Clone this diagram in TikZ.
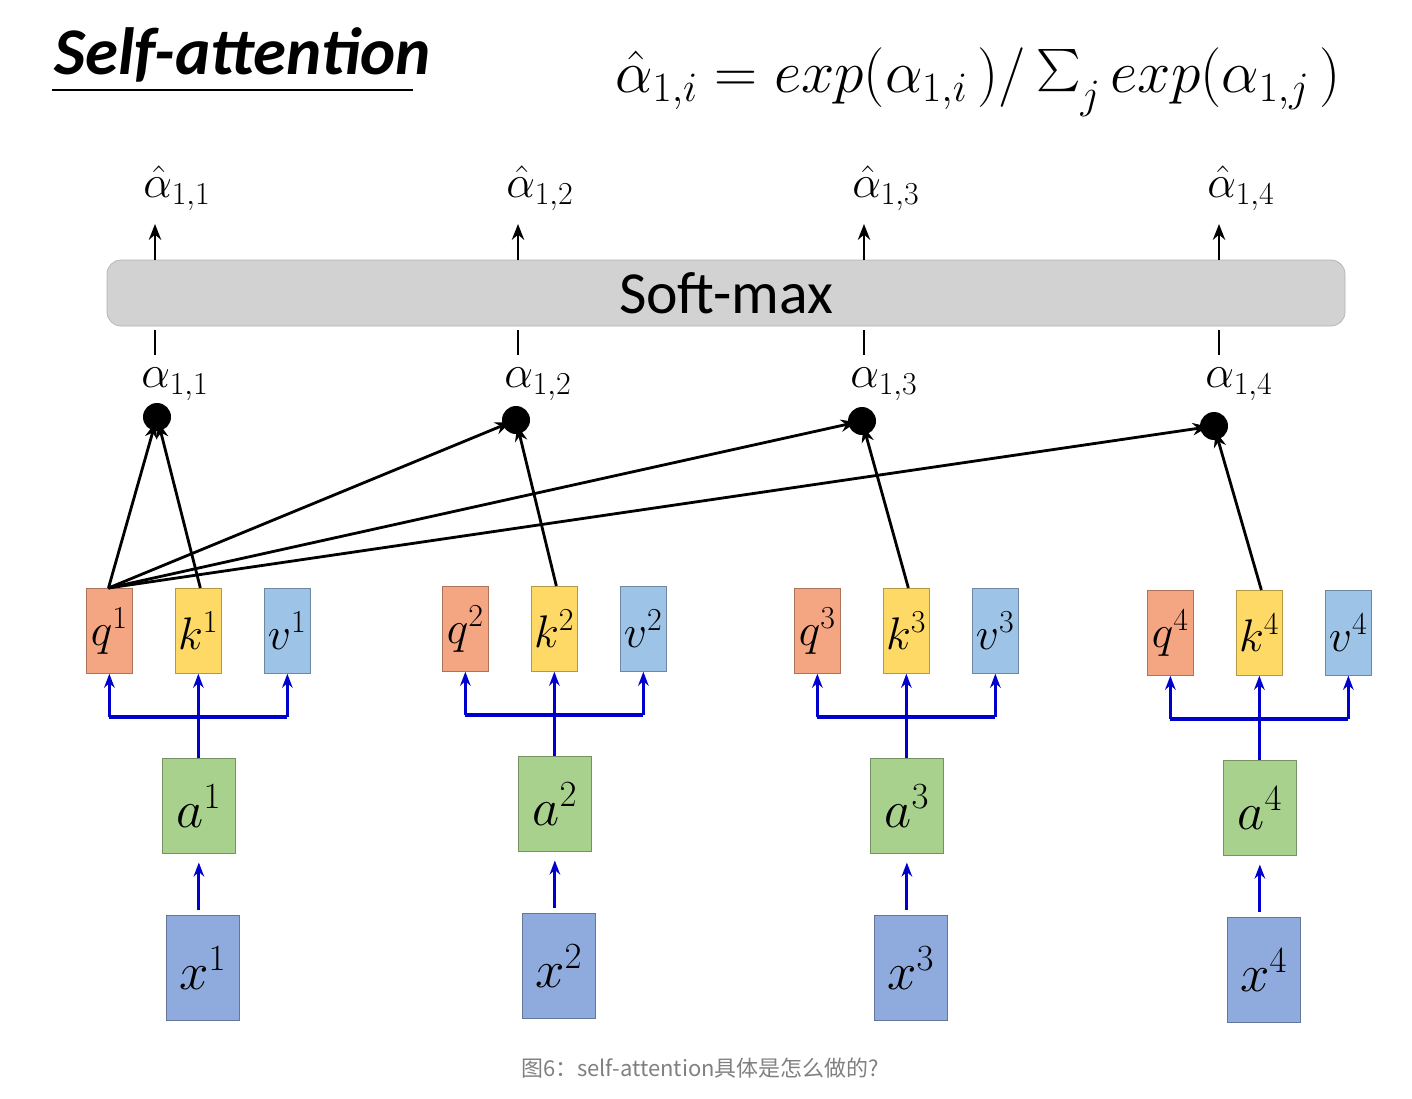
\RequirePackage{fix-cm}
\documentclass[tikz,border=0pt]{standalone}
\usepackage{fontspec}
\newfontfamily\carl{Carlito}
\newfontfamily\cjk{Noto Sans CJK SC}
\usetikzlibrary{arrows.meta}
\begin{document}
\begin{tikzpicture}[x=0.02cm,y=-0.02cm,
  bx/.style={draw=#1!70!black,line width=0.4pt,fill=#1,inner sep=0pt,anchor=north west},
  lab/.style={font=\fontsize{26}{30}\selectfont},
  blk/.style={line width=1.6pt,-{Stealth[length=9pt,width=7pt]}},
  blu/.style={line width=1.8pt,blue!80!black},
  bla/.style={blu,-{Stealth[length=8pt,width=6pt]}}]
\definecolor{qc}{HTML}{F4A582}\definecolor{kc}{HTML}{FFD966}\definecolor{vc}{HTML}{9DC3E6}
\definecolor{ac}{HTML}{A9D18E}\definecolor{xc}{HTML}{8FAADC}
\useasboundingbox (0,0) rectangle (1412,1098);
\node[font=\carl\bfseries\itshape\fontsize{38}{40}\selectfont,anchor=west] (title) at (48,55) {Self-attention};
\draw[line width=1.2pt] (52,90) -- (413,90);
\node[font=\fontsize{34}{40}\selectfont] (formula) at (978,82) {$\hat\alpha_{1,i}=exp\bigl(\alpha_{1,i}\,\bigr)/\mathop{\vcenter{\hbox{\scalebox{2.4}{$\sum$}}}}\nolimits_{j} exp\bigl(\alpha_{1,j}\,\bigr)$};
\node[draw=gray!60,fill=gray!35,rounded corners=8pt,minimum width=1238*0.02cm,minimum height=66*0.02cm,font=\carl\fontsize{34}{38}\selectfont,inner sep=0pt] (sm) at (726,293) {Soft-max};
\foreach \i/\xl/\xd/\yd/\g/\yb in {1/155/157/417/0/588,2/518/516/420/356/586,3/864/862/421/708/588,4/1219/1214/426/1061/590}{
  \node[lab] (ah\i) at (\xl+22,188) {$\hat\alpha_{1,\i}$};
  \coordinate (t\i) at (\xl,224);
  \draw[blk] (\xl,260) -- (t\i);
  \draw[line width=1.6pt] (\xl,330) -- (\xl,355);
  \node[lab] (al\i) at (\xl+20,384) {$\alpha_{1,\i}$};
  \node[circle,fill=black,inner sep=0pt,minimum size=28*0.02cm] (d\i) at (\xd,\yd) {};
  \node[bx=qc,minimum width=46*0.02cm,minimum height=85*0.02cm] (q\i) at (86+\g,\yb) {};
  \node[lab] at (q\i.center) {$q^{\i}$};
  \node[bx=kc,minimum width=46*0.02cm,minimum height=85*0.02cm] (k\i) at (175+\g,\yb) {};
  \node[lab] at (k\i.center) {$k^{\i}$};
  \node[bx=vc,minimum width=46*0.02cm,minimum height=85*0.02cm] (v\i) at (264+\g,\yb) {};
  \node[lab] at (v\i.center) {$v^{\i}$};
  \node[bx=ac,minimum width=73*0.02cm,minimum height=95*0.02cm] (a\i) at (162+\g,\yb+170) {};
  \node[lab,font=\fontsize{30}{34}\selectfont] at (a\i.center) {$a^{\i}$};
  \node[bx=xc,minimum width=73*0.02cm,minimum height=105*0.02cm] (x\i) at (166+\g,\yb+327) {};
  \node[lab,font=\fontsize{30}{34}\selectfont] at (x\i.center) {$x^{\i}$};
  \draw[bla] (a\i.south |- x\i.north) ++(0,-5) -- ([yshift=-5pt]a\i.south);
  \draw[blu] (a\i.north) -- ++(0,-41) coordinate (m\i);
  \draw[blu] (q\i.south |- m\i) -- (v\i.south |- m\i);
  \draw[bla] (q\i.south |- m\i) -- (q\i.south);
  \draw[bla] (k\i.south |- m\i) -- (k\i.south);
  \draw[bla] (v\i.south |- m\i) -- (v\i.south);
  \draw[blk,shorten >=-5pt] ([xshift=2*0.02cm]k\i.north) -- (d\i);
  \draw[blk,shorten >=-5pt] ([xshift=-0.9*0.02cm]q1.north) -- (d\i);
}
\node[font=\cjk\fontsize{12.5}{14}\selectfont,text=gray] (cap) at (700,1068) {图6：self-attention具体是怎么做的?};
\end{tikzpicture}
\end{document}
